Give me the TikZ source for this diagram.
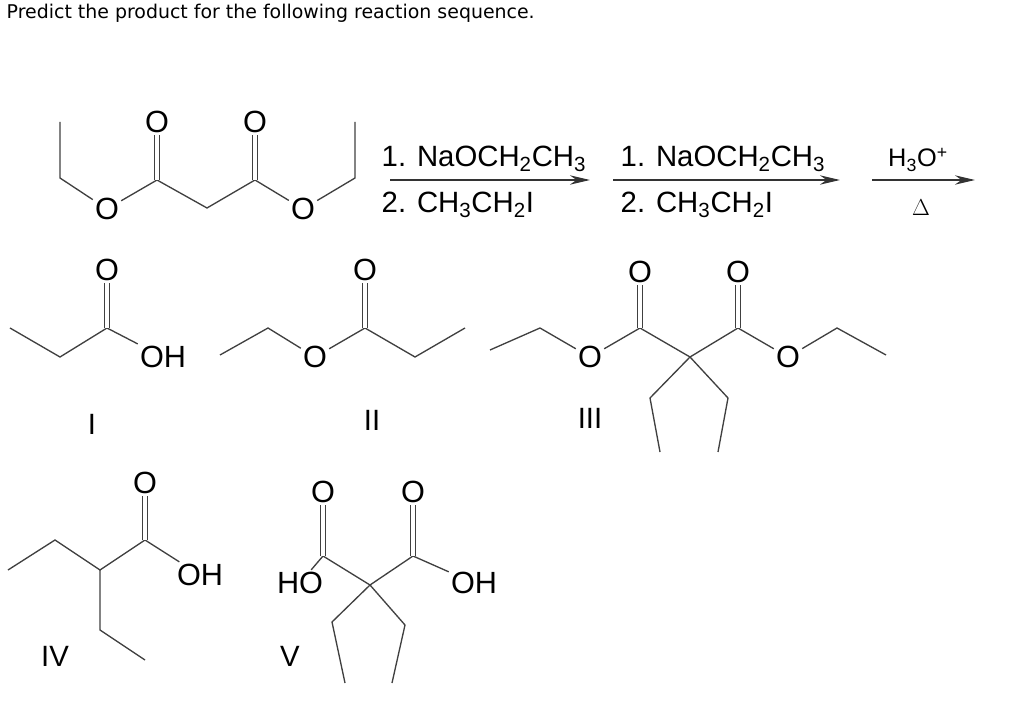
\documentclass[tikz,border=0pt]{standalone}
\usepackage{fontspec}
\setmainfont{Liberation Sans}
\newfontfamily\titlefont{DejaVu Sans}
\usetikzlibrary{arrows.meta}
\newcommand{\sbs}[1]{\textsubscript{#1}}
\newcommand{\sps}[1]{\textsuperscript{#1}}
\begin{document}
\begin{tikzpicture}[x=0.75pt,y=-0.75pt,
  bond/.style={draw=black!75,line width=1pt},
  dbl/.style={draw=black!75,line width=1pt,double=white,double distance=3.2pt},
  atom/.style={inner sep=1.5pt,font=\fontsize{23}{23}\selectfont},
  lbl/.style={font=\fontsize{22}{22}\selectfont},
  rxn/.style={font=\fontsize{22}{22}\selectfont,anchor=west},
  rarrow/.style={draw=black!80,line width=1.3pt,-{Stealth[length=15pt,width=7pt]}}]
\useasboundingbox (0,0) rectangle (1024,712);
\node[anchor=west,font=\titlefont\fontsize{14.2}{15}\selectfont] (title) at (2,13) {Predict the product for the following reaction sequence.};
% starting diester
\coordinate (a1) at (60,122); \coordinate (a2) at (60,178);
\node[atom] (ao1) at (107,209) {O};
\coordinate (ac1) at (157,180); \node[atom] (ao2) at (157,122) {O};
\coordinate (ac2) at (207,208);
\coordinate (ac3) at (255,180); \node[atom] (ao3) at (255,122) {O};
\node[atom] (ao4) at (303,209) {O};
\coordinate (a5) at (355,178); \coordinate (a6) at (355,122);
\draw[bond] (a1) -- (a2) -- (ao1) -- (ac1) -- (ac2) -- (ac3) -- (ao4) -- (a5) -- (a6);
\draw[dbl] (ac1) -- (ao2); \draw[dbl] (ac3) -- (ao3);
% arrows
\coordinate (r1s) at (390,180); \coordinate (r1e) at (590,180);
\coordinate (r2s) at (613,180); \coordinate (r2e) at (840,180);
\coordinate (r3s) at (872,180); \coordinate (r3e) at (975,180);
\draw[rarrow] (r1s) -- (r1e); \draw[rarrow] (r2s) -- (r2e); \draw[rarrow] (r3s) -- (r3e);
\node[rxn] (t1) at (377,159) {1. NaOCH\sbs{2}CH\sbs{3}};
\node[rxn] (t2) at (377,205) {2. CH\sbs{3}CH\sbs{2}I};
\node[rxn] (t3) at (616,159) {1. NaOCH\sbs{2}CH\sbs{3}};
\node[rxn] (t4) at (616,205) {2. CH\sbs{3}CH\sbs{2}I};
\node[font=\fontsize{19}{19}\selectfont] (t5) at (918,160) {H\sbs{3}O\sps{+}};
\node[font=\fontsize{16}{16}\selectfont] (t6) at (921,208) {$\Delta$};
% I
\coordinate (b1) at (10,328); \coordinate (b2) at (60,357); \coordinate (b3) at (107,328);
\node[atom] (bo1) at (107,270) {O}; \node[atom] (boh) at (163,357) {OH};
\draw[bond] (b1) -- (b2) -- (b3) -- (boh);
\draw[dbl] (b3) -- (bo1);
\node[lbl] (L1) at (92,424) {I};
% II
\coordinate (c1) at (220,355); \coordinate (c2) at (268,328);
\node[atom] (co1) at (315,357) {O};
\coordinate (c3) at (365,328); \node[atom] (co2) at (365,270) {O};
\coordinate (c4) at (415,357); \coordinate (c5) at (465,328);
\draw[bond] (c1) -- (c2) -- (co1) -- (c3) -- (c4) -- (c5);
\draw[dbl] (c3) -- (co2);
\node[lbl] (L2) at (372,420) {II};
% III
\coordinate (d1) at (490,350); \coordinate (d2) at (540,328);
\node[atom] (do1) at (590,357) {O};
\coordinate (d3) at (640,328); \node[atom] (do2) at (640,272) {O};
\coordinate (d4) at (690,357);
\coordinate (d5) at (738,328); \node[atom] (do3) at (738,272) {O};
\node[atom] (do4) at (788,357) {O};
\coordinate (d6) at (837,328); \coordinate (d7) at (886,355);
\draw[bond] (d1) -- (d2) -- (do1) -- (d3) -- (d4) -- (d5) -- (do4) -- (d6) -- (d7);
\draw[dbl] (d3) -- (do2); \draw[dbl] (d5) -- (do3);
\coordinate (d8) at (650,398); \coordinate (d9) at (660,452);
\coordinate (d10) at (728,398); \coordinate (d11) at (718,452);
\draw[bond] (d4) -- (d8) -- (d9); \draw[bond] (d4) -- (d10) -- (d11);
\node[lbl] (L3) at (590,418) {III};
% IV
\coordinate (e1) at (8,570); \coordinate (e2) at (55,540); \coordinate (e3) at (100,570);
\coordinate (e4) at (145,540); \node[atom] (eo1) at (145,483) {O};
\node[atom] (eoh) at (200,575) {OH};
\coordinate (e5) at (100,630); \coordinate (e6) at (145,660);
\draw[bond] (e1) -- (e2) -- (e3) -- (e4) -- (eoh);
\draw[bond] (e3) -- (e5) -- (e6);
\draw[dbl] (e4) -- (eo1);
\node[lbl] (L4) at (55,656) {IV};
% V
\node[atom] (fho) at (300,583) {HO};
\coordinate (f1) at (323,556); \node[atom] (fo1) at (323,492) {O};
\coordinate (f2) at (370,585);
\coordinate (f3) at (413,556); \node[atom] (fo2) at (413,492) {O};
\node[atom] (foh) at (474,583) {OH};
\draw[bond] (fho) -- (f1) -- (f2) -- (f3) -- (foh);
\draw[dbl] (f1) -- (fo1); \draw[dbl] (f3) -- (fo2);
\coordinate (f4) at (332,622); \coordinate (f5) at (345,683);
\coordinate (f6) at (405,625); \coordinate (f7) at (392,683);
\draw[bond] (f2) -- (f4) -- (f5); \draw[bond] (f2) -- (f6) -- (f7);
\node[lbl] (L5) at (290,656) {V};
\end{tikzpicture}
\end{document}
